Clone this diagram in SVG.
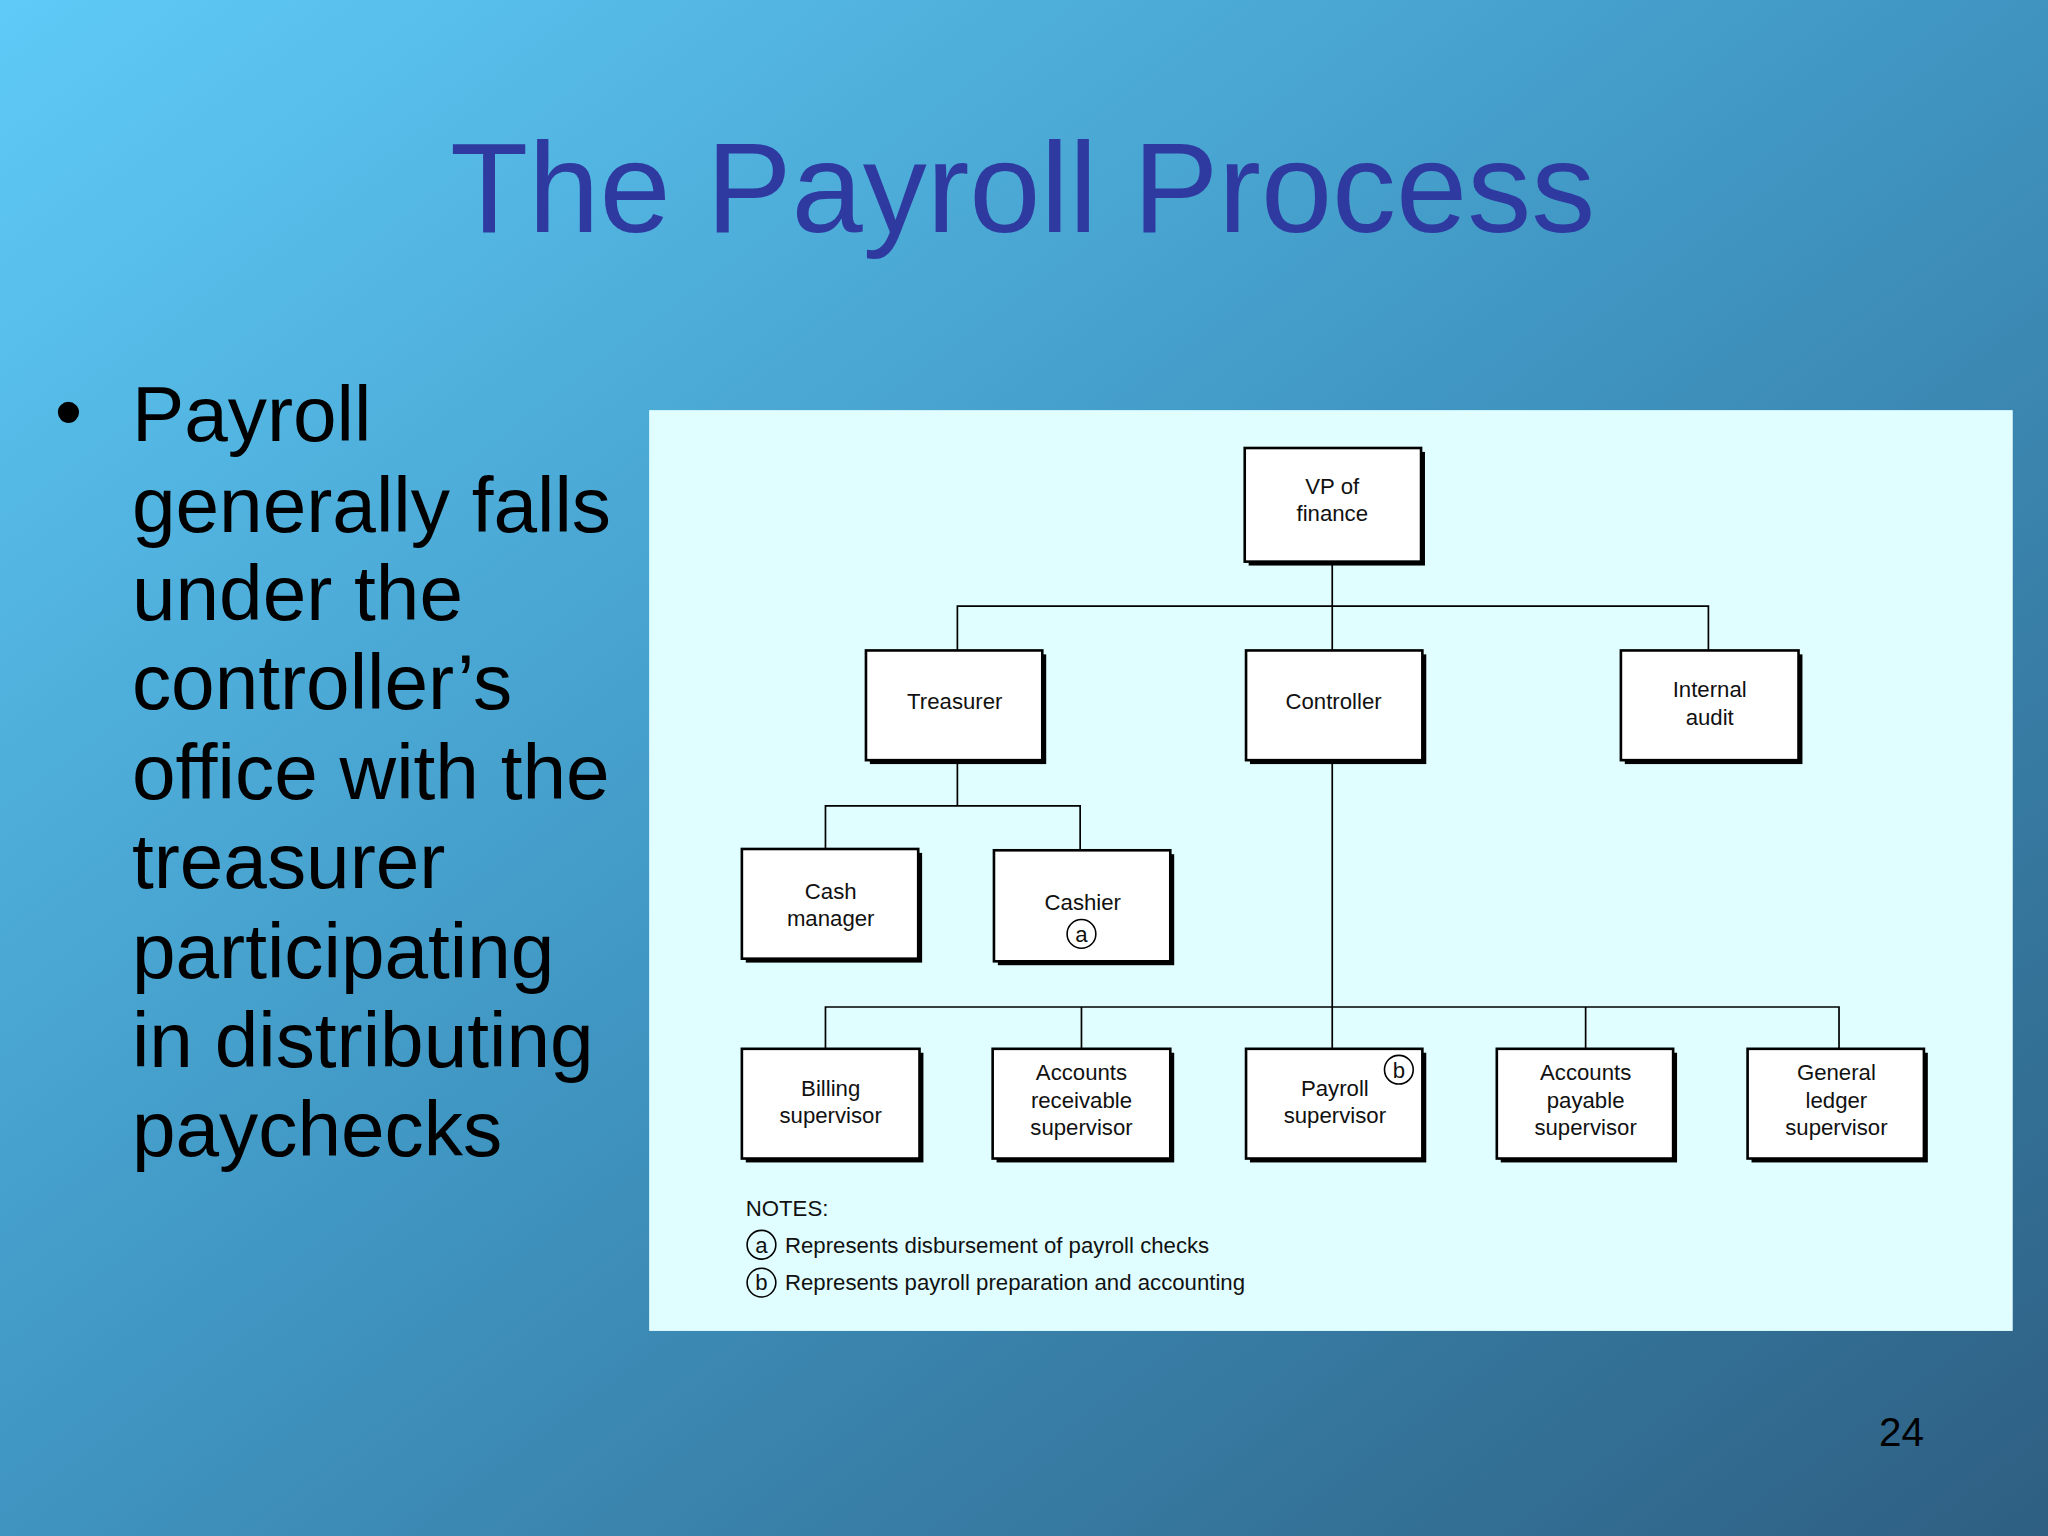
<svg xmlns="http://www.w3.org/2000/svg" width="2048" height="1536" viewBox="0 0 2048 1536">
<defs>
<linearGradient id="bg" x1="0" y1="0" x2="1" y2="1">
<stop offset="0" stop-color="#5fcaf7"/>
<stop offset="0.5" stop-color="#3f94c0"/>
<stop offset="1" stop-color="#2e5f82"/>
</linearGradient>
<style>
.box{fill:#fff;stroke:#000;stroke-width:2}
.sh{fill:#000}
.t{font-family:"Liberation Sans",Arial,sans-serif;font-size:17px;fill:#111;text-anchor:middle}
.n{font-family:"Liberation Sans",Arial,sans-serif;font-size:17px;fill:#111}
.c{fill:none;stroke:#000;stroke-width:1.3}
.b{font-family:"Liberation Sans",Arial,sans-serif;font-size:60px;fill:#000}
</style>
</defs>
<rect width="2048" height="1536" fill="url(#bg)"/>
<g transform="scale(1.30612)">
<text x="783" y="178" text-anchor="middle" font-family="Liberation Sans,Arial,sans-serif" font-size="98" fill="#2e3aa0">The Payroll Process</text>
<g id="bullet">
<text x="42" y="335" class="b">•</text>
<text class="b"><tspan x="101" y="338">Payroll</tspan><tspan x="101" y="407">generally falls</tspan><tspan x="101" y="475">under the</tspan><tspan x="101" y="543">controller’s</tspan><tspan x="101" y="612">office with the</tspan><tspan x="101" y="680">treasurer</tspan><tspan x="101" y="749">participating</tspan><tspan x="101" y="817">in distributing</tspan><tspan x="101" y="885">paychecks</tspan></text>
</g>
<rect x="497" y="314" width="1044" height="705" fill="#e0feff"/>
<g id="connectors" fill="none" stroke="#000" stroke-width="1.3">
<path d="M1020 430V464M733 498V464H1308V498M1020 464V498"/>
<path d="M733 582V617M632 650V617H827V651"/>
<path d="M1020 582V803M632 803V771H1408V803M828 771V803M1214 771V803"/>
</g>
<g id="vp"><rect class="sh" x="956" y="346" width="135" height="87"/><rect class="box" x="953" y="343" width="135" height="87"/><text class="t" x="1020" y="378">VP of</text><text class="t" x="1020" y="399">finance</text></g>
<g id="treasurer"><rect class="sh" x="666" y="501" width="135" height="84"/><rect class="box" x="663" y="498" width="135" height="84"/><text class="t" x="731" y="543">Treasurer</text></g>
<g id="controller"><rect class="sh" x="957" y="501" width="135" height="84"/><rect class="box" x="954" y="498" width="135" height="84"/><text class="t" x="1021" y="543">Controller</text></g>
<g id="audit"><rect class="sh" x="1244" y="501" width="136" height="84"/><rect class="box" x="1241" y="498" width="136" height="84"/><text class="t" x="1309" y="534">Internal</text><text class="t" x="1309" y="555">audit</text></g>
<g id="cash"><rect class="sh" x="571" y="653" width="135" height="84"/><rect class="box" x="568" y="650" width="135" height="84"/><text class="t" x="636" y="688">Cash</text><text class="t" x="636" y="709">manager</text></g>
<g id="cashier"><rect class="sh" x="764" y="654" width="135" height="85"/><rect class="box" x="761" y="651" width="135" height="85"/><text class="t" x="829" y="697">Cashier</text><circle cx="828" cy="715" r="11" fill="none" stroke="#000" stroke-width="1.2"/><text class="t" x="828" y="721">a</text></g>
<g id="billing"><rect class="sh" x="571" y="806" width="136" height="84"/><rect class="box" x="568" y="803" width="136" height="84"/><text class="t" x="636" y="839">Billing</text><text class="t" x="636" y="860">supervisor</text></g>
<g id="ar"><rect class="sh" x="763" y="806" width="136" height="84"/><rect class="box" x="760" y="803" width="136" height="84"/><text class="t" x="828" y="827">Accounts</text><text class="t" x="828" y="848">receivable</text><text class="t" x="828" y="869">supervisor</text></g>
<g id="payroll"><rect class="sh" x="957" y="806" width="135" height="84"/><rect class="box" x="954" y="803" width="135" height="84"/><text class="t" x="1022" y="839">Payroll</text><text class="t" x="1022" y="860">supervisor</text><circle cx="1071" cy="819" r="11" fill="none" stroke="#000" stroke-width="1.2"/><text class="t" x="1071" y="825">b</text></g>
<g id="ap"><rect class="sh" x="1149" y="806" width="135" height="84"/><rect class="box" x="1146" y="803" width="135" height="84"/><text class="t" x="1214" y="827">Accounts</text><text class="t" x="1214" y="848">payable</text><text class="t" x="1214" y="869">supervisor</text></g>
<g id="gl"><rect class="sh" x="1341" y="806" width="135" height="84"/><rect class="box" x="1338" y="803" width="135" height="84"/><text class="t" x="1406" y="827">General</text><text class="t" x="1406" y="848">ledger</text><text class="t" x="1406" y="869">supervisor</text></g>
<g id="notes">
<text class="n" x="571" y="931">NOTES:</text>
<circle cx="583" cy="953" r="11" fill="none" stroke="#000" stroke-width="1.2"/><text class="t" x="583" y="959">a</text>
<text class="n" x="601" y="959">Represents disbursement of payroll checks</text>
<circle cx="583" cy="982" r="11" fill="none" stroke="#000" stroke-width="1.2"/><text class="t" x="583" y="988">b</text>
<text class="n" x="601" y="988">Represents payroll preparation and accounting</text>
</g>
<text x="1473" y="1107" text-anchor="end" font-family="Liberation Sans,Arial,sans-serif" font-size="31" fill="#000">24</text>
</g>
</svg>
